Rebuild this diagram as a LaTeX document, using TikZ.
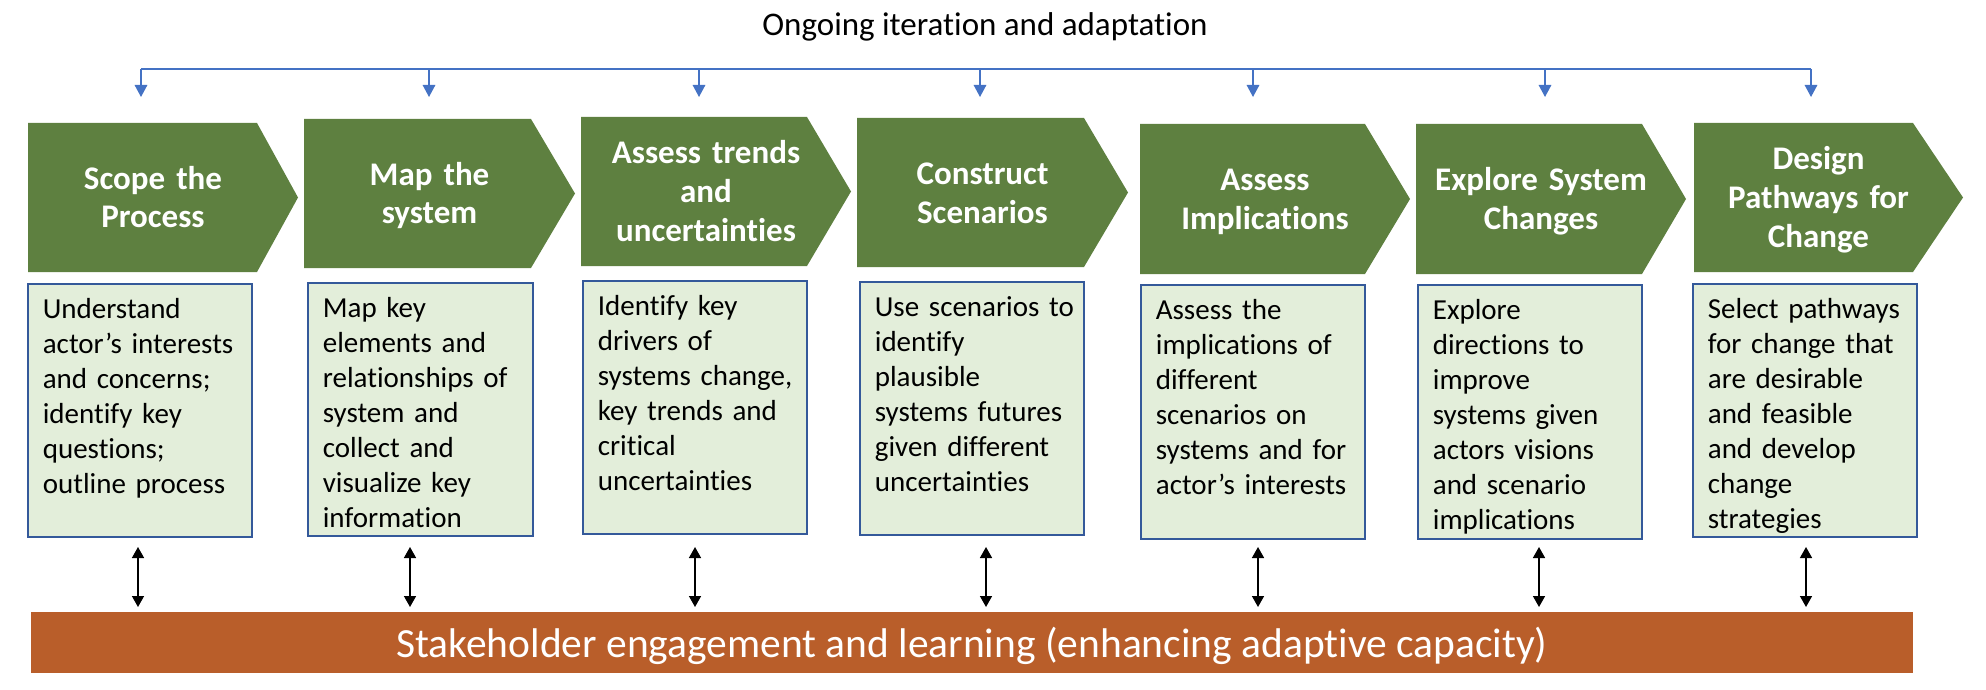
\documentclass[tikz,border=0pt]{standalone}
\usepackage{fontspec}
\setmainfont{Carlito}[Ligatures=NoCommon]
\usetikzlibrary{arrows.meta}
\definecolor{chevgreen}{HTML}{5E8040}
\definecolor{boxfill}{HTML}{E3EEDA}
\definecolor{boxborder}{HTML}{34599A}
\definecolor{barorange}{HTML}{B95E2A}
\definecolor{connblue}{HTML}{4472C4}
\newcommand\mychev[5]{\fill[chevgreen] (#1,#4) -- (#2,#4) -- (#3,{(#4+#5)/2}) -- (#2,#5) -- (#1,#5) -- cycle;}
\begin{document}
\begin{tikzpicture}[x=1pt,y=-1pt,
  chevtext/.style={text=white, font=\fontsize{33}{39}\selectfont\bfseries, text width=270, align=center, anchor=base, inner sep=0},
  infobox/.style={draw=boxborder, line width=1.7, fill=boxfill, inner sep=0},
  boxtext/.style={font=\fontsize{29}{35}\selectfont, text width=205, align=left, anchor=base west, inner sep=0},
  itarrow/.style={draw=connblue, line width=1.5, -{Triangle[width=12.5,length=12]}},
  dblarrow/.style={draw=black, line width=1.5, {Triangle[width=12,length=11]}-{Triangle[width=12,length=11]}}
]
\useasboundingbox (0,0) rectangle (1986,690);

% title
\node[font=\fontsize{33}{39}\selectfont, anchor=base, inner sep=0] (title) at (985,36) {Ongoing iteration and adaptation};

% iteration connector
\coordinate (u1) at (141,69);
\coordinate (u7) at (1811,69);
\draw[connblue, line width=1.5] (u1) -- (u7);
\foreach \i/\x in {1/141,2/429,3/699,4/980,5/1253,6/1545,7/1811} {
  \coordinate (top\i) at (\x,69);
  \coordinate (end\i) at (\x,97);
  \draw[itarrow] (top\i) -- (end\i);
}

% chevrons
\mychev{28}{257}{298}{123}{272}
\mychev{304}{531}{575}{119}{268}
\mychev{581}{807}{851}{117}{266}
\mychev{857}{1084}{1128}{118}{267}
\mychev{1140}{1365}{1410}{124}{274}
\mychev{1416}{1642}{1686}{124}{274}
\mychev{1694}{1913}{1963}{123}{272}

\node[chevtext] (c1) at (153,189) {Scope the\\Process};
\node[chevtext] (c2) at (429.5,185) {Map the\\system};
\node[chevtext] (c3) at (706,163.5) {Assess trends\\and\\uncertainties};
\node[chevtext] (c4) at (982.5,184) {Construct\\Scenarios};
\node[chevtext] (c5) at (1265,190.5) {Assess\\Implications};
\node[chevtext] (c6) at (1541,190.5) {Explore System\\Changes};
\node[chevtext] (c7) at (1818.5,169.5) {Design\\Pathways for\\Change};

% boxes
\node[infobox, minimum width=224, minimum height=253] (b1) at (140,410.5) {};
\node[infobox, minimum width=225, minimum height=253] (b2) at (420.5,409.5) {};
\node[infobox, minimum width=224, minimum height=253] (b3) at (695,407.5) {};
\node[infobox, minimum width=224, minimum height=253] (b4) at (972,408.5) {};
\node[infobox, minimum width=224, minimum height=254] (b5) at (1253,412) {};
\node[infobox, minimum width=224, minimum height=254] (b6) at (1530,412) {};
\node[infobox, minimum width=224, minimum height=253] (b7) at (1805,410.5) {};

\node[boxtext] (t1) at ([xshift=15.5,yshift=-35]b1.north west) {Understand\\actor’s interests\\and concerns;\\identify key\\questions;\\outline process};
\node[boxtext] (t2) at ([xshift=15.5,yshift=-35]b2.north west) {Map key\\elements and\\relationships of\\system and\\collect and\\visualize key\\information};
\node[boxtext] (t3) at ([xshift=15.5,yshift=-35]b3.north west) {Identify key\\drivers of\\systems change,\\key trends and\\critical\\uncertainties};
\node[boxtext] (t4) at ([xshift=15.5,yshift=-35]b4.north west) {Use scenarios to\\identify\\plausible\\systems futures\\given different\\uncertainties};
\node[boxtext] (t5) at ([xshift=15.5,yshift=-35]b5.north west) {Assess the\\implications of\\different\\scenarios on\\systems and for\\actor’s interests};
\node[boxtext] (t6) at ([xshift=15.5,yshift=-35]b6.north west) {Explore\\directions to\\improve\\systems given\\actors visions\\and scenario\\implications};
\node[boxtext] (t7) at ([xshift=15.5,yshift=-35]b7.north west) {Select pathways\\for change that\\are desirable\\and feasible\\and develop\\change\\strategies};

% stakeholder bar
\node[fill=barorange, minimum width=1882, minimum height=61, inner sep=0, text=white,
  font=\fontsize{41.5}{48}\selectfont, text height=40, text depth=11] (bar) at (972,642.5)
  {Stakeholder engagement and learning (enhancing adaptive capacity)};

% engagement arrows
\foreach \i/\x in {1/138,2/410,3/695,4/986,5/1258,6/1539,7/1806} {
  \coordinate (d\i) at (\x,547);
  \coordinate (e\i) at (\x,607);
  \draw[dblarrow] (d\i) -- (e\i);
}
\end{tikzpicture}
\end{document}
